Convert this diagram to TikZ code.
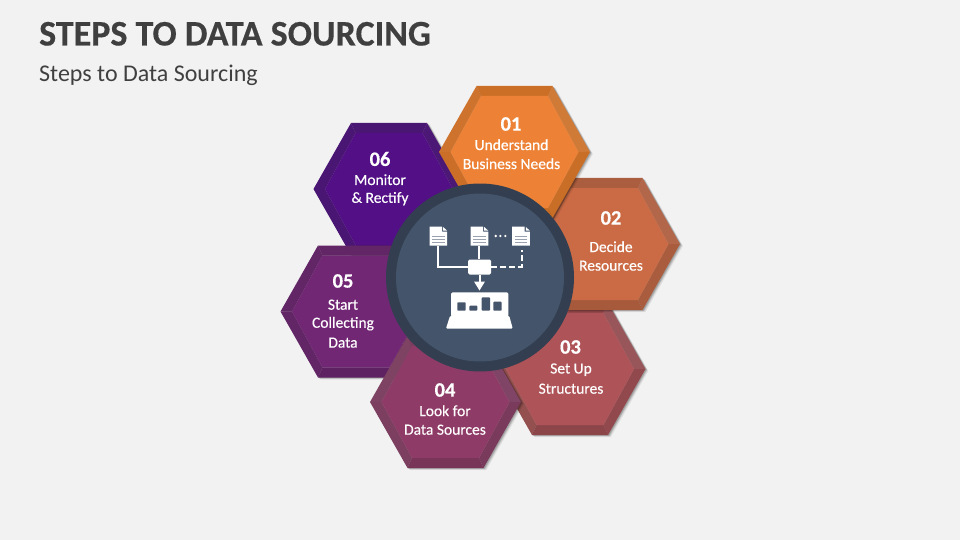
\documentclass[tikz,border=0pt]{standalone}
\usepackage{fontspec}
\setmainfont{Carlito}
\newfontfamily\hexfont[FakeBold=0.35]{Carlito}
\newfontfamily\titlefont[BoldFeatures={FakeBold=0.4}]{Carlito}
\definecolor{bg}{HTML}{F2F2F2}
\definecolor{ring}{HTML}{333F50}
\definecolor{disc}{HTML}{44546A}
\definecolor{titlec}{HTML}{3F3F3F}
\definecolor{subc}{HTML}{404040}
\tikzset{
  x=1pt,y=-1pt,
  htxt/.style={font=\hexfont\fontsize{15.5}{15.5}\selectfont,text=white,inner sep=0pt,anchor=center},
  hnum/.style={font=\titlefont\bfseries\fontsize{20.5}{20.5}\selectfont,text=white,inner sep=0pt,anchor=center},
  iconline/.style={draw=white,line width=2pt},
  docshape/.style={fill=white,draw=none},
}
% \hexa{cx}{cy}{inner}{rim top}{rim upper right}{rim lower right}{rim bottom}{rim lower left}{rim upper left}
\newcommand{\hexa}[9]{%
  \begin{scope}[shift={(#1,#2)}]
    \definecolor{hcI}{HTML}{#3}\definecolor{hcA}{HTML}{#4}\definecolor{hcB}{HTML}{#5}%
    \definecolor{hcC}{HTML}{#6}\definecolor{hcD}{HTML}{#7}\definecolor{hcE}{HTML}{#8}\definecolor{hcF}{HTML}{#9}%
    \foreach \d/\o in {3.0/.05,2.3/.08,1.6/.11,1.0/.14}{
      \fill[black,opacity=\o,shift={(\d,\d*0.7)}] (-38,-66)--(38,-66)--(75.5,0)--(38,66)--(-38,66)--(-75.5,0)--cycle;
    }
    \fill[hcA] (-38,-66)--(38,-66)--(33.5,-56)--(-33.5,-56)--cycle;
    \fill[hcB] (38,-66)--(75.5,0)--(64,0)--(33.5,-56)--cycle;
    \fill[hcC] (75.5,0)--(38,66)--(33.5,56)--(64,0)--cycle;
    \fill[hcD] (38,66)--(-38,66)--(-33.5,56)--(33.5,56)--cycle;
    \fill[hcE] (-38,66)--(-75.5,0)--(-64,0)--(-33.5,56)--cycle;
    \fill[hcF] (-75.5,0)--(-38,-66)--(-33.5,-56)--(-64,0)--cycle;
    \fill[hcI] (-33.5,-56)--(33.5,-56)--(64,0)--(33.5,56)--(-33.5,56)--(-64,0)--cycle;
  \end{scope}}
\newcommand{\docicon}[3]{% name, left x, top y
  \fill[docshape] (#2,#3) -- (#2+12.5,#3) -- (#2+12.5,#3+5) -- (#2+17.7,#3+5) -- (#2+17.7,#3+19) -- (#2,#3+19) -- cycle;
  \fill[docshape] (#2+13.6,#3+0.3) -- (#2+17.7,#3+4) -- (#2+13.6,#3+4) -- cycle;
  \foreach \yy in {9,12,15}{\fill[disc!55!white] (#2+2.7,#3+\yy) rectangle (#2+15,#3+\yy+1.1);}
  \node[inner sep=0pt,minimum width=17.7pt,minimum height=19pt] (#1) at (#2+8.85,#3+9.5) {};
}
\begin{document}
\begin{tikzpicture}
\useasboundingbox (0,0) rectangle (960,540);
\fill[bg] (0,0) rectangle (960,540);
\node[anchor=base west,inner sep=0pt,text=titlec,font=\titlefont\bfseries\fontsize{36}{36}\selectfont] (title) at (39,45.5) {STEPS TO DATA SOURCING};
\node[anchor=base west,inner sep=0pt,text=subc,font=\fontsize{24}{24}\selectfont] (subtitle) at (39,81.7) {Steps to Data Sourcing};

\hexa{570}{369}{AE5357}{96484C}{98565A}{91494D}{8C4549}{93504F}{96565A}
\hexa{604.5}{244}{CB6B45}{AB5E3F}{B2664A}{A95D3E}{A65A3B}{AB5F42}{AB5F42}
\hexa{389}{189}{530F85}{4A1673}{4C1876}{481470}{47126E}{4A1673}{4A1673}
\hexa{356}{311.5}{722775}{622566}{642769}{602364}{5E2262}{622566}{622566}
\hexa{445.5}{402}{8F3B67}{7C3D5F}{7F4466}{7A3A5C}{783558}{7C3F60}{7E4263}
\hexa{514.5}{152}{ED8236}{CC6F26}{D07A38}{C96E26}{C76C22}{CA6E28}{CE732E}

\node[hnum] (n1) at (511,124) {01};
\node[htxt] (l1a) at (511.5,144.7) {Understand};
\node[htxt] (l1b) at (511.5,163.7) {Business Needs};
\node[hnum] (n2) at (611,218) {02};
\node[htxt] (l2a) at (611,246.7) {Decide};
\node[htxt] (l2b) at (611,265.7) {Resources};
\node[hnum] (n3) at (570.5,347) {03};
\node[htxt] (l3a) at (571,369.7) {Set Up};
\node[htxt] (l3b) at (571,388.7) {Structures};
\node[hnum] (n4) at (445,390) {04};
\node[htxt] (l4a) at (445,410.7) {Look for};
\node[htxt] (l4b) at (445,429.7) {Data Sources};
\node[hnum] (n5) at (343,281) {05};
\node[htxt] (l5a) at (343,304.7) {Start};
\node[htxt] (l5b) at (343,323.7) {Collecting};
\node[htxt] (l5c) at (343,342.7) {Data};
\node[hnum] (n6) at (380,159) {06};
\node[htxt] (l6a) at (380,179.7) {Monitor};
\node[htxt] (l6b) at (380,198.7) {\& Rectify};

\fill[ring] (480,277.5) circle[radius=94];
\fill[disc] (480,277.5) circle[radius=84];

\docicon{d1}{429.5}{226.7}
\docicon{d2}{470.6}{226.7}
\docicon{d3}{512.2}{226.7}
\node[fill=white,rounded corners=1.5pt,inner sep=0pt,minimum width=23pt,minimum height=15pt] (hub) at (479.5,267) {};
\draw[iconline] (d1.south) -- (d1.south |- hub) -- (hub.west);
\draw[iconline] (d2.south) -- (hub.north -| d2.south);
\coordinate (dashend) at (521.5,250);
\draw[iconline,dash pattern=on 6pt off 3pt] (hub.east) -- (hub.east -| dashend) -- (dashend);
\coordinate (tip) at (479.5,290.5);
\coordinate (arrowbase) at (479.5,282);
\draw[iconline] (hub.south) -- (arrowbase);
\fill[white] (474,281.5) -- (485,281.5) -- (tip) -- cycle;
\foreach \xx in {495.7,500.3,505.3}{\fill[white] (\xx,236) circle[radius=1.3];}
% laptop
\fill[white,rounded corners=1.5pt] (451,317) -- (451,292.3) -- (508.3,292.3) -- (508.3,317) -- cycle;
\fill[white,rounded corners=1pt] (450,316) -- (509.3,316) -- (512.7,328.5) -- (446,328.5) -- cycle;
\fill[disc,rounded corners=.8pt] (457.3,302.3) rectangle (465.7,310.7);
\fill[disc,rounded corners=.8pt] (469.3,305.7) rectangle (477.3,310.7);
\fill[disc,rounded corners=.8pt] (481.7,297.3) rectangle (490,310.7);
\fill[disc,rounded corners=.8pt] (493.3,301.7) rectangle (501.7,310.7);
\end{tikzpicture}
\end{document}
